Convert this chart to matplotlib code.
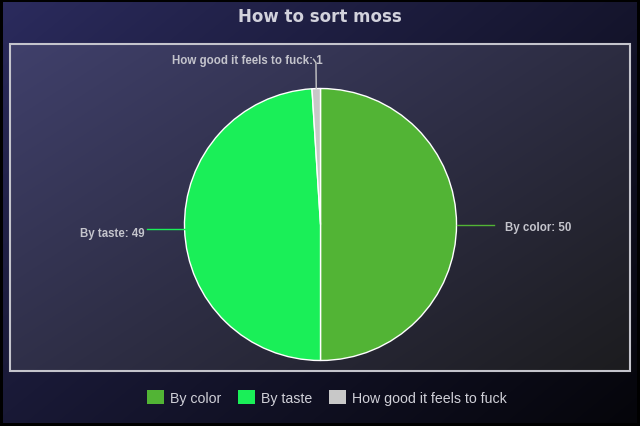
import numpy as np
import matplotlib
matplotlib.use("Agg")
import matplotlib.pyplot as plt
from matplotlib.patches import Rectangle, Patch

title = "How to sort moss"
categories = ["By color", "By taste", "How good it feels to fuck"]
values = [50, 49, 1]
colors = ["#52b435", "#1aef58", "#c8c8c8"]

W, H = 640, 427
fig = plt.figure(figsize=(6.4, 4.27), dpi=100, facecolor="black")


def px(x0, y0, x1, y1):
    return [x0 / W, 1 - y1 / H, (x1 - x0) / W, (y1 - y0) / H]


def gradient(ax, c0, c1, power=1.0):
    n = 256
    xx, yy = np.meshgrid(np.linspace(0, 1, n), np.linspace(0, 1, n))
    t = ((xx * 0.55 + yy * 0.45)) ** power
    c0 = np.array(c0)
    c1 = np.array(c1)
    img = c0[None, None, :] * (1 - t[..., None]) + c1[None, None, :] * t[..., None]
    ax.imshow(img, extent=[0, 1, 0, 1], aspect="auto", origin="upper",
              interpolation="bilinear")
    ax.set_xlim(0, 1)
    ax.set_ylim(0, 1)
    ax.set_axis_off()


# outer background
bg = fig.add_axes(px(3, 3, 637, 424))
gradient(bg, (0.17, 0.17, 0.37), (0.02, 0.02, 0.04), power=0.9)

# plot area
pa = fig.add_axes(px(10, 45, 630, 372))
gradient(pa, (0.25, 0.25, 0.42), (0.11, 0.11, 0.12), power=1.0)
fig.add_artist(Rectangle((10 / W, 1 - 372 / H), 620 / W, 327 / H,
                         transform=fig.transFigure, fill=False,
                         ec="#c4c4cc", lw=1.5, zorder=5))

fig.text(0.5, 1 - 17 / H, title, ha="center", va="center", fontsize=12,
         fontweight="bold", color="#d2d2dc", family="DejaVu Sans")

# pie
ax = fig.add_axes(px(184.5, 89.5, 456.5, 361.5))
wedges, _ = ax.pie(values, colors=colors, startangle=90, counterclock=False,
                   radius=1.0,
                   wedgeprops=dict(edgecolor="white", linewidth=1.0))
ax.set_xlim(-1, 1)
ax.set_ylim(-1, 1)
ax.set_axis_off()

lab_kw = dict(fontsize=8.3, fontweight="bold", color="#c4c4cc",
              family="Liberation Sans", va="center")
for w, cat, val, col in zip(wedges, categories, values, colors):
    mid = np.deg2rad((w.theta1 + w.theta2) / 2)
    x, y = np.cos(mid), np.sin(mid)
    text = f"{cat}: {val}"
    if abs(x) > 0.5:
        s = np.sign(x)
        ax.plot([x, s * 1.277], [y, y], color=col, lw=1, clip_on=False)
        if s > 0:
            ax.text(1.36, y - 0.018, text, ha="left", **lab_kw)
        else:
            ax.text(-1.29, y - 0.03, text, ha="right", **lab_kw)
    else:
        ax.plot([x, x - 0.002, x - 0.02], [y, 1.19, 1.215], color=col, lw=1,
                clip_on=False)
        ax.text(0.015, 1.21, text, ha="right", **lab_kw)

handles = [Patch(facecolor=c, edgecolor="none") for c in colors]
fig.legend(handles, categories, loc="center", bbox_to_anchor=(327 / W, 1 - 398.5 / H),
           ncol=3, frameon=False, prop=dict(family="Liberation Sans", size=10.2),
           labelcolor="#d0d0d8", handlelength=1.2, handleheight=1.1,
           handletextpad=0.4, columnspacing=1.2)

fig.savefig("out.png", dpi=100, facecolor="black")
